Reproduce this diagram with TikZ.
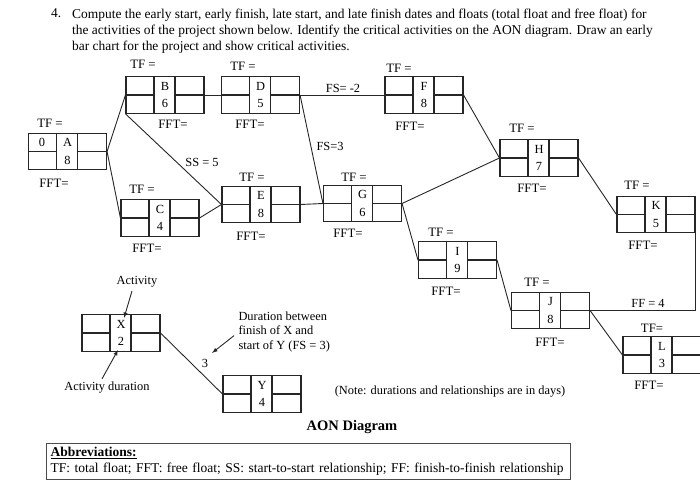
\documentclass[tikz,border=0pt]{standalone}
\usepackage{fontspec}
\setmainfont{Liberation Serif}
\usetikzlibrary{calc}
\tikzset{
  act/.style={draw=black!85, line width=1.1pt, minimum width=78pt, minimum height=36.5pt, inner sep=0pt, align=center,
    font=\fontsize{12.4}{17.5}\selectfont,
    path picture={
      \draw[black!85, line width=1.1pt] (path picture bounding box.west) -- ++(28pt,0)
        (path picture bounding box.east) -- ++(-29pt,0)
        ($(path picture bounding box.north west)+(28pt,0)$) -- ($(path picture bounding box.south west)+(28pt,0)$)
        ($(path picture bounding box.north east)+(-29pt,0)$) -- ($(path picture bounding box.south east)+(-29pt,0)$);
    }},
  lbl/.style={inner sep=0pt, font=\fontsize{12.8}{14}\selectfont},
  link/.style={draw=black!85, line width=0.9pt},
  pointer/.style={draw=black!85, line width=0.9pt, -latex},
}
\begin{document}
\begin{tikzpicture}[x=1pt,y=-1pt,every node/.style={font=\fontsize{12.4}{14}\selectfont}]
\useasboundingbox (0,0) rectangle (700,489);

\node[anchor=base west, inner sep=0pt, font=\fontsize{13.45}{16}\selectfont] (num) at (51,18) {4.};
\node[anchor=north west, align=left, inner sep=0pt, font=\fontsize{13.45}{16}\selectfont] (task) at (72,8.7) {Compute the early start, early finish, late start, and late finish dates and floats (total float and free float) for\\the activities of the project shown below. Identify the critical activities on the AON diagram. Draw an early\\bar chart for the project and show critical activities.};

\node[act] (A) at (67.5,151.5) {A\\8};
\node[act] (B) at (165,95) {B\\6};
\node[act] (D) at (260.5,95) {D\\5};
\node[act] (F) at (424,95) {F\\8};
\node[act] (C) at (160,218) {C\\4};
\node[act] (E) at (261,204.5) {E\\8};
\node[act] (G) at (362.5,203.5) {G\\6};
\node[act] (H) at (539,158) {H\\7};
\node[act] (I) at (457.5,260) {I\\9};
\node[act] (K) at (656,214.5) {K\\5};
\node[act] (J) at (550.5,310.5) {J\\8};
\node[act] (L) at (662,355) {L\\3};
\node (A0) at (42,142) {0};

\node[lbl] (tfA) at (50,123) {TF =};
\node[lbl] (fftA) at (54,183) {FFT=};
\node[lbl] (tfB) at (143,64) {TF =};
\node[lbl] (fftB) at (173,124) {FFT=};
\node[lbl] (tfD) at (243,66) {TF =};
\node[lbl] (fftD) at (250,124) {FFT=};
\node[lbl] (tfF) at (399,68) {TF =};
\node[lbl] (fftF) at (410,126) {FFT=};
\node[lbl] (tfC) at (142,189) {TF =};
\node[lbl] (fftC) at (147,248) {FFT=};
\node[lbl] (tfE) at (252,177) {TF =};
\node[lbl] (fftE) at (251,236) {FFT=};
\node[lbl] (tfG) at (354,177) {TF =};
\node[lbl] (fftG) at (348,233) {FFT=};
\node[lbl] (tfI) at (441,232) {TF =};
\node[lbl] (fftI) at (446,291) {FFT=};
\node[lbl] (tfH) at (522,128) {TF =};
\node[lbl] (fftH) at (532,188) {FFT=};
\node[lbl] (tfK) at (637,185) {TF =};
\node[lbl] (fftK) at (643,245) {FFT=};
\node[lbl] (tfJ) at (537,282) {TF =};
\node[lbl] (fftJ) at (550,342) {FFT=};
\node[lbl] (tfL) at (652,328) {TF=};
\node[lbl] (fftL) at (649,385) {FFT=};

\draw[link] (A.east) -- (B.west);
\draw[link] (A.east) -- (C.west);
\draw[link] (B.east) -- (D.west);
\draw[link] (B.south west) -- (E.west);
\draw[link] (C.east) -- (E.west);
\draw[link] (D.east) -- (F.west);
\draw[link] (D.east) -- (G.west);
\draw[link] (E.east) -- (G.west);
\draw[link] (F.east) -- (H.west);
\draw[link] (G.east) -- (H.west);
\draw[link] (G.east) -- (I.west);
\draw[link] (H.east) -- (K.west);
\draw[link] (I.east) -- (J.west);
\draw[link] (J.east) -- (L.west);
\draw[link] (J.east) -| (K.east);

\node (ss) at (202,162) {SS = 5};
\node (fsD) at (343,88) {FS= -2};
\node (fsG) at (330,146) {FS=3};
\node (ff) at (648,303) {FF = 4};

\node[act] (X) at (121,333) {X\\2};
\node[act] (Y) at (262,394) {Y\\4};
\draw[link] (X.east) -- (Y.west);
\node (lag) at (205,363) {3};
\node (actl) at (137,282) {Activity};
\coordinate (actp) at (124,318);
\draw[pointer] ([xshift=-5pt]actl.south) -- (actp);
\node (durl) at (107,388) {Activity duration};
\coordinate (durp) at (118,350);
\draw[pointer] ([xshift=-5pt]durl.north) -- (durp);
\node[anchor=north west, align=left, font=\fontsize{12.4}{14.5}\selectfont] (lagl) at (235,308) {Duration between\\finish of X and\\start of Y (FS = 3)};
\coordinate (lagp) at (212,353);
\draw[pointer] ([xshift=-1pt,yshift=-4pt]lagl.west) -- (lagp);

\node (note) at (450,392) {(Note: durations and relationships are in days)};
\node[font=\bfseries\fontsize{14.5}{16}\selectfont] (aon) at (352,427) {AON Diagram};
\node[draw=black!70, line width=1.3pt, anchor=north west, minimum width=524pt, minimum height=36pt, text width=516pt, inner xsep=4pt, inner ysep=1pt, align=left, font=\fontsize{13.5}{16}\selectfont] (abbr) at (46,443) {\underline{\textbf{Abbreviations:}}\\TF: total float; FFT: free float; SS: start-to-start relationship; FF: finish-to-finish relationship};
\end{tikzpicture}
\end{document}
